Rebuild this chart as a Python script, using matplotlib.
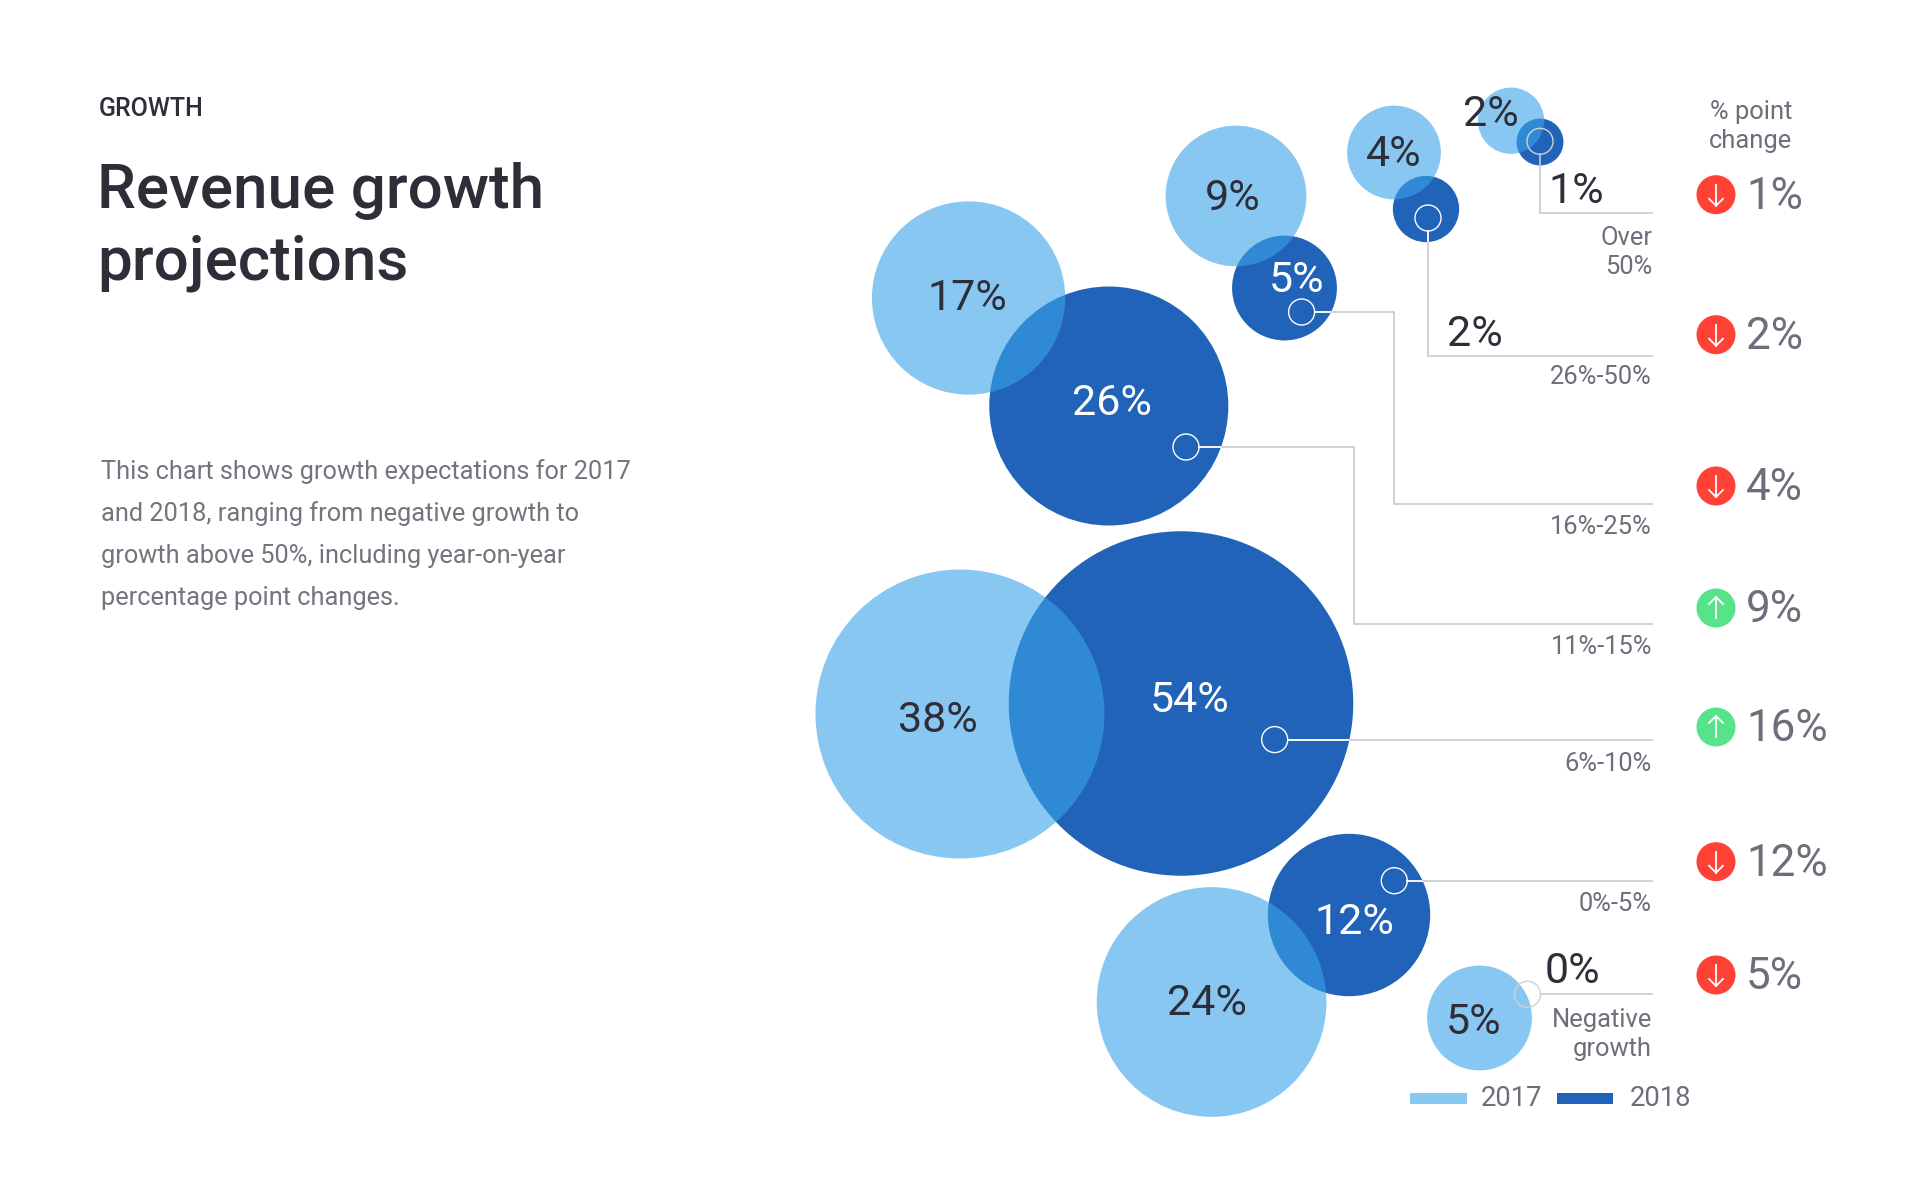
import numpy as np
import matplotlib
matplotlib.use('Agg')
import matplotlib.pyplot as plt
from matplotlib.patches import Circle, Rectangle

plt.rcParams['font.family'] = ['Roboto', 'DejaVu Sans']

categories = ['Negative\ngrowth', '0%-5%', '6%-10%', '11%-15%', '16%-25%', '26%-50%', 'Over\n50%']
values_2017 = [5, 24, 38, 17, 9, 4, 2]
values_2018 = [0, 12, 54, 26, 5, 2, 1]
point_change = [-5, -12, 16, 9, -4, -2, -1]

# layout, pixels from the top left corner
K = 23.44
DARK = '#2163B8'
LIGHT = '#39A3E9'
LIGHT_ALPHA = 0.6
LINE = '#C8C8D0'
INK = '#2E2E38'
GREY = '#6E6E7A'
RIGHT = 1652

xy_2017 = [(1479.5, 1018), (1211.6, 1002), (960, 714), (968.6, 298), (1236, 196), (1394, 152.5), (1511, 120.7)]
xy_2018 = [None, (1349, 915), (1181, 703.5), (1108.8, 406), (1284.5, 288), (1426, 209), (1540, 142)]
rings = [(1527.5, 994.3), (1394.3, 880.7), (1274.7, 739.6), (1186, 447), (1301.6, 312), (1428, 218), (1540, 141.3)]
# leader line: elbow x (None = straight) and the y it runs into the right edge at
elbow_x = [None, None, None, 1353.7, 1393.5, 1428, 1540]
line_y = [994.3, 880.7, 739.6, 624, 504, 356, 213]
label_2017 = [(1474, 1023), (1207, 1003.5), (938, 720.5), (967, 298), (1233, 199), (1393.5, 155), (1491, 114.5)]
label_2018 = [(1572, 971.6), (1354, 923), (1190, 700), (1112, 403.5), (1297, 281), (1474.5, 335), (1576, 191.6)]
label_2018_col = [INK, 'white', 'white', 'white', 'white', INK, INK]
cat_y = [1034.5, 904, 764, 647, 527, 377, 252.5]
change_y = [975, 861.7, 727, 608, 486, 334.7, 194.7]

fig = plt.figure(figsize=(19.2, 12), dpi=100, facecolor='white')
ax = fig.add_axes([0, 0, 1, 1])
ax.set_xlim(0, 1920)
ax.set_ylim(1200, 0)
ax.axis('off')

def px(size):
    return size * 0.72

# bubbles, area follows the value
circles_2018 = []
for v, c in zip(values_2018, xy_2018):
    if c is None or v == 0:
        circles_2018.append(None)
        continue
    p = Circle(c, K * np.sqrt(v), fc=DARK, ec='none', zorder=2)
    ax.add_patch(p)
    circles_2018.append(p)
for v, c in zip(values_2017, xy_2017):
    ax.add_patch(Circle(c, K * np.sqrt(v), fc=LIGHT, alpha=LIGHT_ALPHA, ec='none', zorder=3))

# leader lines and rings
for i in range(len(categories)):
    rx, ry = rings[i]
    r = 13
    if elbow_x[i] is None:
        xs = [rx + r, RIGHT]
        ys = [ry, ry]
    elif elbow_x[i] == rx:
        xs = [rx, rx, RIGHT]
        ys = [ry + r, line_y[i], line_y[i]]
    else:
        xs = [rx + r, elbow_x[i], elbow_x[i], RIGHT]
        ys = [ry, ry, line_y[i], line_y[i]]
    ax.plot(xs, ys, color=LINE, lw=1.2, zorder=4, solid_joinstyle='miter')
    on_dark = circles_2018[i] is not None and i != 6
    if on_dark:
        seg, = ax.plot(xs, ys, color='white', lw=1.2, zorder=5)
        seg.set_clip_path(circles_2018[i])
    ring_col = 'white' if on_dark else '#D0D0D8'
    ax.add_patch(Circle((rx, ry), r, fc='none', ec=ring_col, lw=1.0, zorder=6))

# value labels
for v, (x, y) in zip(values_2017, label_2017):
    ax.text(x, y, f'{v}%', fontsize=px(43), color=INK, ha='center', va='center', zorder=7)
for v, (x, y), col in zip(values_2018, label_2018, label_2018_col):
    ax.text(x, y, f'{v}%', fontsize=px(43), color=col, ha='center', va='center', zorder=7)

# category names
for name, y in zip(categories, cat_y):
    ax.text(RIGHT, y, name, fontsize=px(25.5), color=GREY, ha='right', va='center', linespacing=1.28, zorder=7)

# change column
ax.text(1751, 126.5, '% point\nchange', fontsize=px(25.5), color=GREY, ha='center', va='center', linespacing=1.28)
for v, y in zip(point_change, change_y):
    col = '#57E389' if v > 0 else '#FF4136'
    ax.add_patch(Circle((1716, y), 19.5, fc=col, ec='none', zorder=3))
    d = -1 if v > 0 else 1
    ax.plot([1716, 1716], [y - 10 * d, y + 11 * d], color='white', lw=1.3, zorder=4)
    ax.plot([1709, 1716, 1723], [y + 4 * d, y + 11 * d, y + 4 * d], color='white', lw=1.3, zorder=4)
    ax.text(1746, y + 2, f'{abs(v)}%', fontsize=px(44), color=GREY, ha='left', va='center')

# legend
ax.add_patch(Rectangle((1410, 1093), 57, 11, fc='#88C8F2', ec='none'))
ax.add_patch(Rectangle((1556.5, 1093), 56.5, 11, fc=DARK, ec='none'))
ax.text(1481, 1098, '2017', fontsize=px(27.5), color=GREY, ha='left', va='center')
ax.text(1630, 1098, '2018', fontsize=px(27.5), color=GREY, ha='left', va='center')

# heading and intro copy
ax.text(99, 116.5, 'GROWTH', fontsize=px(25), color=INK, ha='left', va='baseline', weight='medium')
ax.text(97, 208, 'Revenue growth', fontsize=px(62), color=INK, ha='left', va='baseline', weight='medium')
ax.text(97, 280, 'projections', fontsize=px(62), color=INK, ha='left', va='baseline', weight='medium')
intro = ['This chart shows growth expectations for 2017',
         'and 2018, ranging from negative growth to',
         'growth above 50%, including year-on-year',
         'percentage point changes.']
for line, y in zip(intro, [479, 521, 563.5, 605]):
    ax.text(101, y, line, fontsize=px(25.4), color='#74747F', ha='left', va='baseline')

fig.savefig('out.png', dpi=100, facecolor='white')
